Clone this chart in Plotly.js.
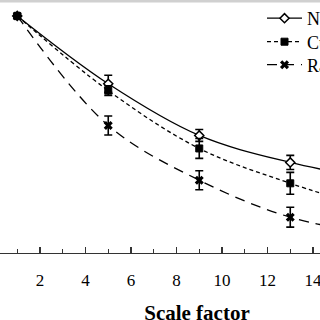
<!DOCTYPE html>
<html>
<head>
<meta charset="utf-8">
<script src="https://cdn.plot.ly/plotly-3.0.1.min.js"></script>
<style>
html,body{margin:0;padding:0;overflow:hidden;background:#fff;width:320px;height:320px;}
#chart{width:394px;height:325px;}
</style>
</head>
<body>
<div id="chart"></div>
<script>
var scaleFactors = [1, 5, 9, 13, 17];
var seriesNames = ["Nearest", "Cubic", "Random"];
var nValues = [1.00, 0.714, 0.496, 0.382, 0.307];
var nErrors = [0.0, 0.036, 0.025, 0.030, 0.03];
var cValues = [1.00, 0.685, 0.441, 0.294, 0.176];
var cErrors = [0.0, 0.02, 0.042, 0.046, 0.04];
var rValues = [1.00, 0.538, 0.307, 0.151, 0.076];
var rErrors = [0.0, 0.040, 0.040, 0.042, 0.04];

function mk(name, y, err, dash, symbol, size, color, lw, legendId) {
  return {
    x: scaleFactors, y: y, name: name, type: 'scatter', mode: 'lines+markers',
    legend: legendId,
    line: {color: '#000', width: 1.3, dash: dash, shape: 'spline', smoothing: 1},
    marker: {symbol: symbol, size: size, color: color, line: {color: '#000', width: lw}},
    error_y: {type: 'data', array: err, visible: true, color: '#000', thickness: 1.6, width: 4}
  };
}

var data = [
  mk(seriesNames[0], nValues, nErrors, 'solid', 'diamond', 7, '#fff', 1.5, 'legend'),
  mk(seriesNames[1], cValues, cErrors, '4px,3px', 'square', 7, '#000', 1, 'legend2'),
  mk(seriesNames[2], rValues, rErrors, '10px,7px', 'x', 8, '#000', 0, 'legend3')
];

var legFont = {family: 'Liberation Serif', size: 18, color: '#000'};
function leg(y) {
  return {x: 0.665, y: y, xanchor: 'left', yanchor: 'middle', bgcolor: 'rgba(0,0,0,0)',
          font: legFont, itemwidth: 35, borderwidth: 0};
}

var layout = {
  width: 394, height: 325,
  margin: {l: 0, r: 0, t: 0, b: 72, pad: 0},
  paper_bgcolor: '#fff', plot_bgcolor: '#fff',
  showlegend: true,
  legend: leg(0.929),
  legend2: leg(0.834),
  legend3: leg(0.743),
  xaxis: {
    range: [0.242, 17.56], showgrid: false, zeroline: false,
    showline: true, linecolor: '#333', linewidth: 1.2,
    ticks: 'inside', ticklen: 6, tickcolor: '#333', tickwidth: 1.2,
    tick0: 0, dtick: 2,
    minor: {ticks: 'inside', ticklen: 4, dtick: 1, tick0: 0, tickcolor: '#333', tickwidth: 1.2},
    ticklabelstandoff: 11,
    tickfont: {family: 'Liberation Serif', size: 17, color: '#000'},
    title: {text: '<b>Scale factor</b>', font: {family: 'Liberation Serif', size: 21, color: '#000'}, standoff: 27},
    automargin: false
  },
  yaxis: {
    range: [0, 1.063], visible: false, showgrid: false, zeroline: false
  },
  shapes: [{type: 'line', xref: 'paper', yref: 'paper', x0: 0, x1: 1, y0: 1, y1: 1,
            line: {color: '#d0d0d0', width: 3}}]
};

Plotly.newPlot('chart', data, layout, {displayModeBar: false, staticPlot: true});
</script>
</body>
</html>
